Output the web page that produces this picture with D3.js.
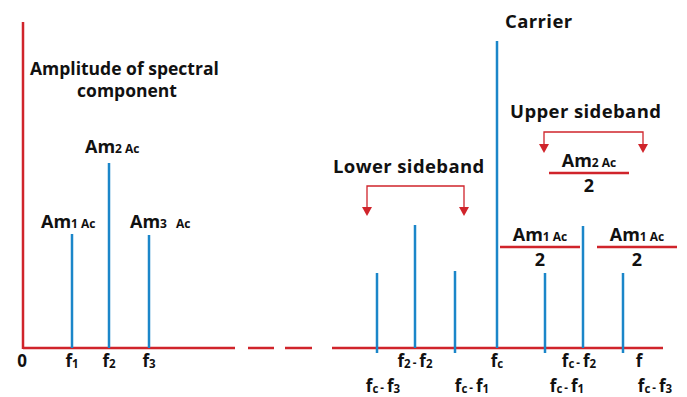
<!DOCTYPE html>
<html>
<head>
<meta charset="utf-8">
<script src="https://cdn.jsdelivr.net/npm/d3@7"></script>
<style>
	body { margin: 0; background: #fff; }
	svg text { font-family: "Open Sans", sans-serif; font-weight: 700; fill: #111; }
</style>
</head>
<body>
<div id="chart"></div>
<script>
// baseband components (modulating signal)
var leftFreq = [49, 86, 126];
var leftAmp = [114, 185, 113];

// modulated spectrum: lower sideband, carrier, upper sideband
var rightFreq = [354, 392, 432, 474, 522, 560, 600];
var rightAmp = [75, 123, 77, 307, 75, 122, 75];
var rightRow = [2, 1, 2, 1, 2, 1, 2];

// tick labels under the axis; "_x" marks a small subscript piece
var tickFreq = [-1, 49, 86, 126];
var tickText = [["0"], ["f", "_1"], ["f", "_2"], ["f", "_3"]];
var row1Freq = [392, 474, 556, 616];
var row1Text = [["f", "_2", "- ", "f", "_2"], ["f", "_c"], ["f", "_c", "- ", "f", "_2"], ["f"]];
var row2Freq = [360, 449, 544, 632];
var row2Text = [["f", "_c", "- ", "f", "_3"], ["f", "_c", "- ", "f", "_1"], ["f", "_c", "- ", "f", "_1"], ["f", "_c", "- ", "f", "_3"]];

var width = 687, height = 397;
var red = "#d0242b", blue = "#1b86c9";

var svg = d3.select("#chart").append("svg")
		.attr("width", width)
		.attr("height", height);

var x = d3.scaleLinear().domain([0, 640]).range([23, 663]);
var y = d3.scaleLinear().domain([0, 310]).range([348, 38]);

// axes
svg.append("line")
	.attr("x1", x(0)).attr("x2", x(0))
	.attr("y1", 22).attr("y2", y(0) + 1)
	.attr("stroke", red).attr("stroke-width", 2.5);

var axisPieces = [[0, 212], [225, 251], [262, 289], [309, 640]];
svg.selectAll("line.axis").data(axisPieces).enter().append("line")
	.attr("class", "axis")
	.attr("x1", function(d) { return x(d[0]); })
	.attr("x2", function(d) { return x(d[1]); })
	.attr("y1", y(0)).attr("y2", y(0))
	.attr("stroke", red).attr("stroke-width", 2.5);

// spectral lines
var left = leftFreq.map(function(f, i) { return {f: f, a: leftAmp[i], row: 1}; });
var right = rightFreq.map(function(f, i) { return {f: f, a: rightAmp[i], row: rightRow[i]}; });

svg.selectAll("line.comp").data(left.concat(right)).enter().append("line")
	.attr("class", "comp")
	.attr("x1", function(d) { return x(d.f); })
	.attr("x2", function(d) { return x(d.f); })
	.attr("y1", function(d) { return y(d.a); })
	.attr("y2", function(d) { return d.row == 2 ? y(0) + 5 : y(0); })
	.attr("stroke", blue).attr("stroke-width", 2.5);

function labelRow(freqs, texts, yy) {
	freqs.forEach(function(f, i) {
		var t = svg.append("text")
			.attr("x", x(f)).attr("y", yy)
			.attr("text-anchor", "middle");
		texts[i].forEach(function(p) {
			var sub = p[0] == "_";
			var small = sub || p == "- ";
			var ts = t.append("tspan")
				.attr("font-size", small ? 11.5 : 17)
				.text(sub ? p.slice(1) : p);
			if (sub) ts.attr("baseline-shift", "-1px");
			if (p == "- ") ts.attr("dx", 2);
		});
	});
}
labelRow(tickFreq, tickText, 367);
labelRow(row1Freq, row1Text, 367);
labelRow(row2Freq, row2Text, 392);

// amplitude labels (Am Ac)
function amp(xx, yy, n, anchor) {
	var t = svg.append("text").attr("x", xx).attr("y", yy).attr("text-anchor", anchor || "start");
	t.append("tspan").attr("font-size", 18).text("Am");
	t.append("tspan").attr("font-size", 12).text(n + " Ac");
	return t;
}
amp(x(leftFreq[0]) - 31, 228, "1");
amp(x(leftFreq[1]) - 24, 153, "2");
amp(x(leftFreq[2]) - 19, 228, "3\u2002");

// fractions Am Ac / 2
function fraction(cx, lineY, n, half) {
	amp(cx, lineY - 6, n, "middle");
	svg.append("line")
		.attr("x1", cx - half).attr("x2", cx + half)
		.attr("y1", lineY).attr("y2", lineY)
		.attr("stroke", red).attr("stroke-width", 2.5);
	svg.append("text").attr("x", cx).attr("y", lineY + 19)
		.attr("text-anchor", "middle").attr("font-size", 18).text("2");
}
fraction(589, 173, "2", 40);
fraction(540, 247, "1", 40);
fraction(637, 247, "1", 40);

// titles
svg.append("text").attr("x", 30).attr("y", 75).attr("font-size", 17.5).text("Amplitude of spectral");
svg.append("text").attr("x", 127).attr("y", 97).attr("font-size", 17.5)
	.attr("text-anchor", "middle").text("component");
[["Carrier", 505, 28], ["Upper sideband", 510, 118], ["Lower sideband", 333, 173]].forEach(function(d) {
	svg.append("text").attr("x", d[1]).attr("y", d[2])
		.attr("font-size", 18.5).attr("letter-spacing", 0.4).text(d[0]);
});

// sideband brackets with down arrows
function bracket(x1, x2, yTop, yBot) {
	svg.append("path")
		.attr("d", "M" + x1 + "," + (yBot - 6) + "V" + yTop + "H" + x2 + "V" + (yBot - 6))
		.attr("fill", "none").attr("stroke", red).attr("stroke-width", 1.3);
	[x1, x2].forEach(function(xx) {
		svg.append("path")
			.attr("d", "M" + (xx - 5) + "," + (yBot - 9) + "L" + (xx + 5) + "," + (yBot - 9) + "L" + xx + "," + yBot + "Z")
			.attr("fill", red);
	});
}
bracket(367, 464, 186, 216);
bracket(544, 643, 132, 153);
</script>
</body>
</html>
